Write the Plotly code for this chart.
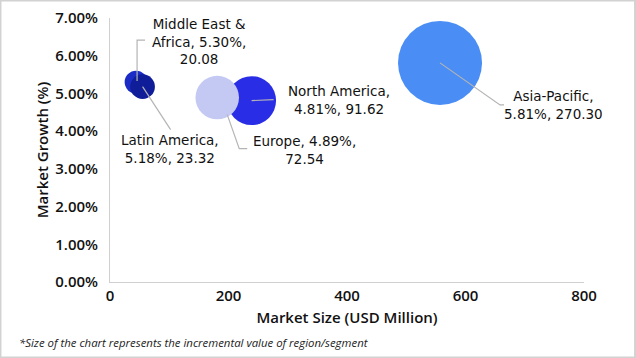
import textwrap
import plotly.graph_objects as go

# ---- data ----
regions = ["Middle East & Africa", "Latin America", "North America", "Europe", "Asia-Pacific"]
market_size = [44, 55, 239, 181, 557]          # x, USD Million (read from bubble centres)
market_growth = [5.30, 5.18, 4.81, 4.89, 5.81]  # y, %
incremental = [20.08, 23.32, 91.62, 72.54, 270.30]  # bubble size
colors = ["#1a2bc6", "#0f1e98", "#2a2de6", "#c3c9f3", "#4a8df5"]

x_ticks = [0, 200, 400, 600, 800]
y_ticks = [0, 1, 2, 3, 4, 5, 6, 7]
y_tick_labels = [f"{v:.2f}%" for v in y_ticks]

# label offsets (pixels) and leader paths (pixels, relative to bubble centre, y up)
label_offsets = [(63, 41), (27, -62), (87, 1), (87, -52), (113, -42)]
leader_paths = [
    [(1, 1), (1, 42), (9, 42)],
    [(0, 0), (28, -43)],
    [(0, 0), (22, 1)],
    [(10, -17), (22, -51), (30, -51)],
    [(0, 0), (60, -42), (64, -42)],
]

LABEL_FONT = dict(family="DejaVu Sans", size=13.5, color="#111111")
AXIS_FONT = dict(family="Open Sans", size=15, color="#111111", weight=600)

fig = go.Figure()
max_diam = 84
fig.add_trace(go.Scatter(
    x=market_size, y=market_growth, mode="markers",
    marker=dict(size=incremental, sizemode="area",
                sizeref=2 * max(incremental) / max_diam ** 2,
                color=colors, opacity=1, line=dict(width=0)),
    hoverinfo="text", text=regions, showlegend=False,
))

shapes = []
annotations = []
for r, xv, yv, inc, (dx, dy), path in zip(regions, market_size, market_growth,
                                          incremental, label_offsets, leader_paths):
    label = "<br>".join(textwrap.wrap(f"{r}, {yv:.2f}%, {inc:.2f}", width=14))
    annotations.append(dict(x=xv, y=yv, xref="x", yref="y", text=label,
                            showarrow=False, xshift=dx, yshift=dy,
                            xanchor="center", yanchor="middle", align="center",
                            font=LABEL_FONT))
    p = "M " + " L ".join(f"{a},{b}" for a, b in path)
    shapes.append(dict(type="path", xref="x", yref="y", xsizemode="pixel",
                       ysizemode="pixel", xanchor=xv, yanchor=yv, path=p,
                       line=dict(color="#b4b4b4", width=1.2), layer="above"))

L, R, T, B = 110, 52, 18, 76
W, H = 636, 358
pw, ph = W - L - R, H - T - B
shapes.append(dict(type="rect", xref="paper", yref="paper",
                   x0=-L / pw + 0.001, x1=1 + R / pw - 0.002,
                   y0=-B / ph + 0.002, y1=1 + T / ph - 0.002,
                   line=dict(color="#d2d2d2", width=2), layer="below"))

annotations.append(dict(
    xref="paper", yref="paper", x=(17 - L) / pw, y=(T + ph - 342) / ph,
    xanchor="left", yanchor="middle", showarrow=False,
    text="<i>*Size of the chart represents the incremental value of region/segment</i>",
    font=dict(family="Open Sans", size=11.4, color="#222222")))

fig.update_layout(
    width=W, height=H,
    margin=dict(l=L, r=R, t=T, b=B),
    paper_bgcolor="white", plot_bgcolor="white",
    shapes=shapes, annotations=annotations,
    xaxis=dict(range=[0, 800], tickvals=x_ticks, showgrid=False, zeroline=False,
               showline=True, linecolor="#d0d0d0", linewidth=1, automargin=False,
               tickfont=AXIS_FONT, ticks="",
               title=dict(text="Market Size (USD Million)", font=AXIS_FONT, standoff=8)),
    yaxis=dict(range=[0, 7], tickmode="array", tickvals=y_ticks, ticktext=y_tick_labels,
               showgrid=False, zeroline=False, showline=True, linecolor="#d0d0d0",
               linewidth=1, tickfont=AXIS_FONT, ticks="", automargin=False,
               ticklabelstandoff=8,
               title=dict(text="Market Growth (%)", font=AXIS_FONT, standoff=2)),
)

fig.write_html("out.html", config={"displayModeBar": False},
               post_script="document.body.style.margin='0';")
